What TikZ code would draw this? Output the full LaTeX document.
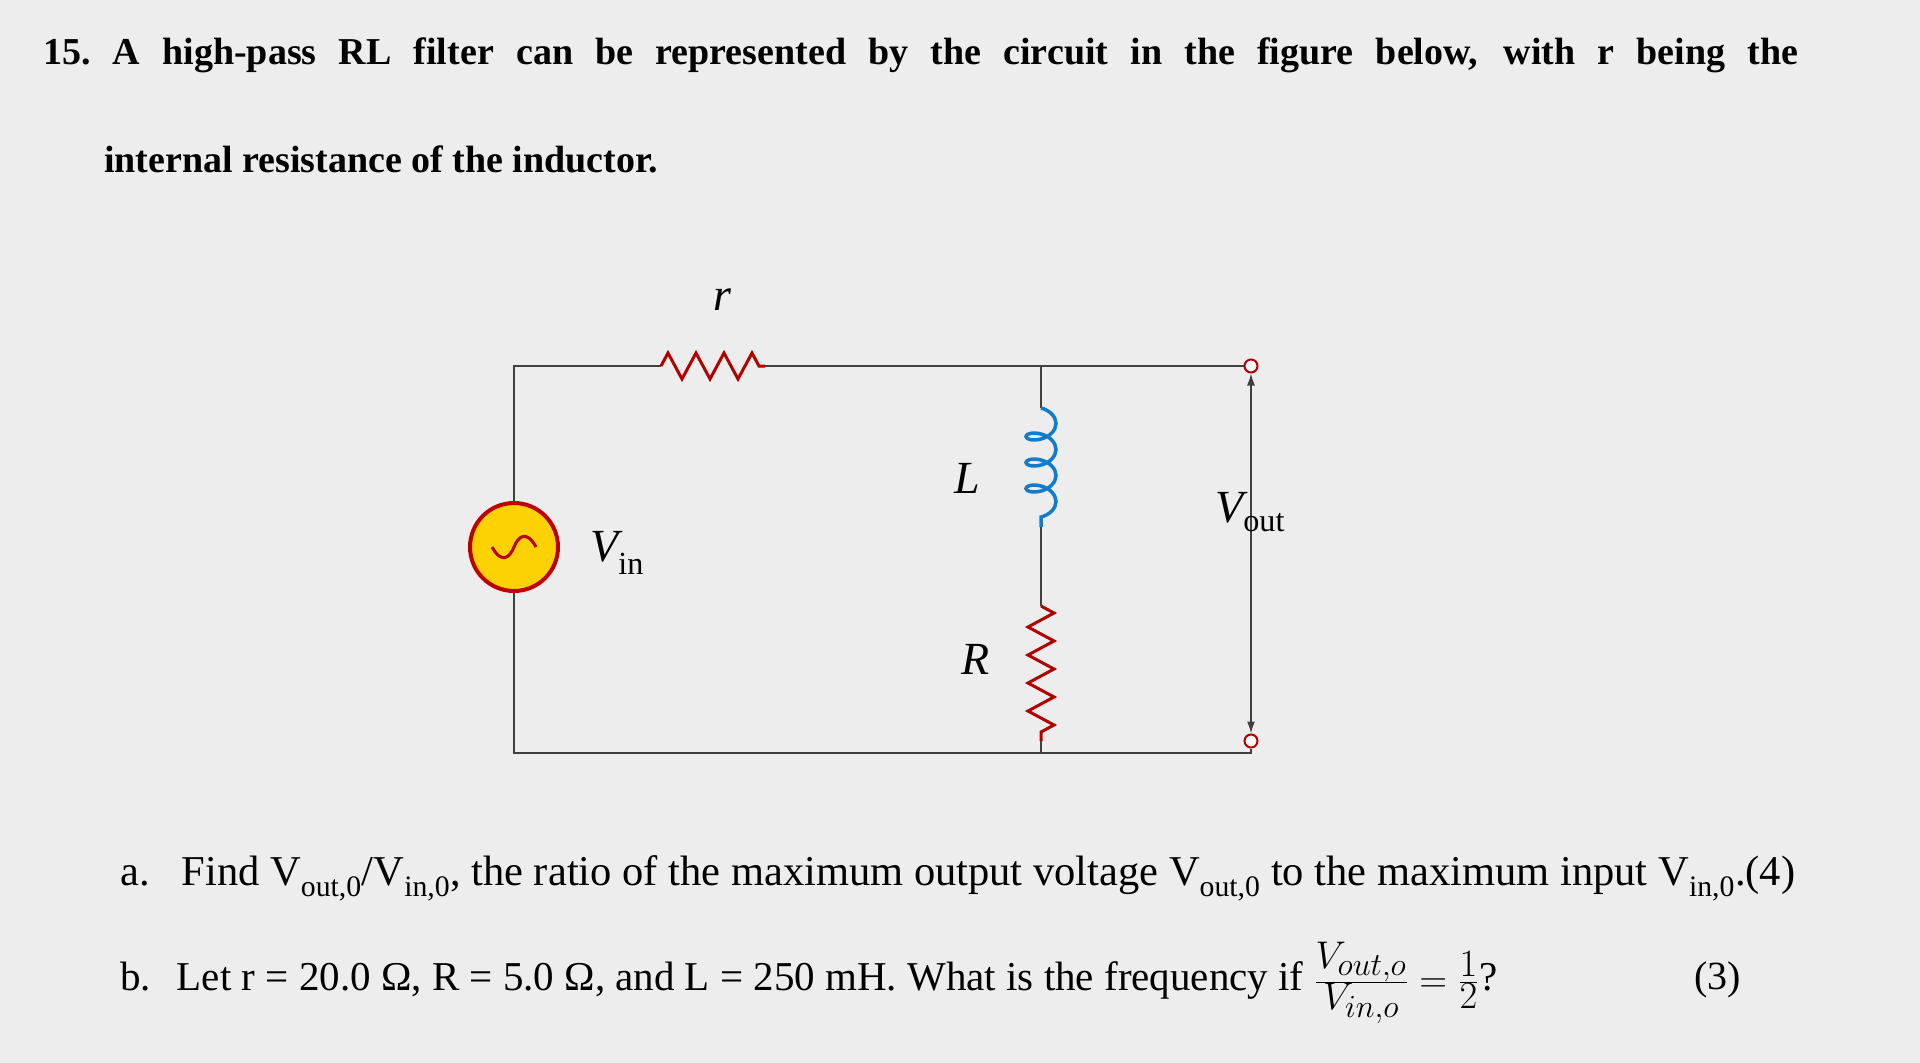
\documentclass[tikz,border=0pt]{standalone}
\usepackage{fontspec}
\usepackage{graphicx}
\setmainfont{Liberation Serif}
\usetikzlibrary{decorations.pathmorphing,arrows.meta}
\begin{document}
\begin{tikzpicture}[x=1pt,y=-1pt,
  wire/.style={line width=1.6pt,black!75},
  res/.style={line width=3pt,red!70!black,decorate,decoration={zigzag,segment length=28pt,amplitude=13pt}},
  txt/.style={font=\fontsize{40}{46}\selectfont,anchor=west,inner sep=0pt},
  lab/.style={font=\itshape\fontsize{46}{50}\selectfont,inner sep=0pt}]
\fill[gray!14] (0,0) rectangle (1920,1063);
\useasboundingbox (0,0) rectangle (1920,1063);
\node[txt,font=\bfseries\fontsize{38}{44}\selectfont,text width=1755pt,align=justify] (t1) at (43,55) {\noindent 15.\ A high-pass RL filter can be represented by the circuit in the figure below, with r being the\parfillskip=0pt\par};
\node[txt,font=\bfseries\fontsize{38}{44}\selectfont] (t2) at (104,159) {internal resistance of the inductor.};
% coordinates
\coordinate (tl) at (514,366);
\coordinate (bl) at (514,753);
\coordinate (r1) at (661,366);
\coordinate (r2) at (765,366);
\coordinate (tj) at (1041,366);
\coordinate (bj) at (1041,753);
\coordinate (l1) at (1041,408);
\coordinate (l2) at (1041,527);
\coordinate (R1) at (1041,606);
\coordinate (R2) at (1041,741);
\node[circle,draw=red!75!black,line width=4pt,fill=yellow!70!orange,minimum size=88pt,inner sep=0pt] (src) at (514,547) {};
\draw[line width=3pt,red!75!black] ([xshift=-22pt]src.center) .. controls ([xshift=-12pt,yshift=-18pt]src.center) and ([xshift=-4pt,yshift=-10pt]src.center) .. (src.center) .. controls ([xshift=4pt,yshift=10pt]src.center) and ([xshift=12pt,yshift=18pt]src.center) .. ([xshift=22pt]src.center);
\node[circle,draw=red!70!black,line width=2pt,fill=white,minimum size=13pt,inner sep=0pt] (o1) at (1251,366) {};
\node[circle,draw=red!70!black,line width=2pt,fill=white,minimum size=13pt,inner sep=0pt] (o2) at (1251,741) {};
\draw[wire] (src.north) -- (tl) -- (r1);
\draw[wire] (r2) -- (tj) -- (o1.west);
\draw[wire] (src.south) -- (bl) -- (bj) -| (o2.south);
\draw[res] (r1) -- (r2);
\draw[wire] (tj) -- (l1);
\draw[line width=3.5pt,cyan!60!blue,decorate,decoration={coil,aspect=0.6,segment length=26pt,amplitude=15pt}] (l1) -- (l2);
\draw[wire] (l2) -- (R1);
\draw[res] (R1) -- (R2);
\draw[wire] (R2) -- (bj);
\draw[line width=1.5pt,black!75,{Latex[length=12pt,width=8pt]}-{Latex[length=12pt,width=8pt]}] (o1.south) -- (o2.north);
\node[lab] (lr) at (722,300) {r};
\node[lab] (lL) at (967,478) {L};
\node[lab] (lR) at (976,659) {R};
\node[lab,anchor=west] (vin) at (590,553) {V\textsubscript{\upshape in}};
\node[lab,anchor=west] (vout) at (1215,512) {V\textsubscript{\upshape out}};
\node[txt,font=\fontsize{42.5}{46}\selectfont] (a) at (120,878) {a.\hspace{32pt}Find V\textsubscript{out,0}/V\textsubscript{in,0}, the ratio of the maximum output voltage V\textsubscript{out,0} to the maximum input V\textsubscript{in,0}.(4)};
\node[txt,font=\fontsize{41}{46}\selectfont] (b) at (120,983) {b.\hspace{26pt}Let r = 20.0 Ω, R = 5.0 Ω, and L = 250 mH. What is the frequency if \raisebox{-2pt}{\scalebox{1.55}{$\frac{V_{out,o}}{V_{in,o}}=\frac{1}{2}$}}?};
\node[txt,font=\fontsize{40}{46}\selectfont] (b3) at (1694,980) {(3)};
\end{tikzpicture}
\end{document}
